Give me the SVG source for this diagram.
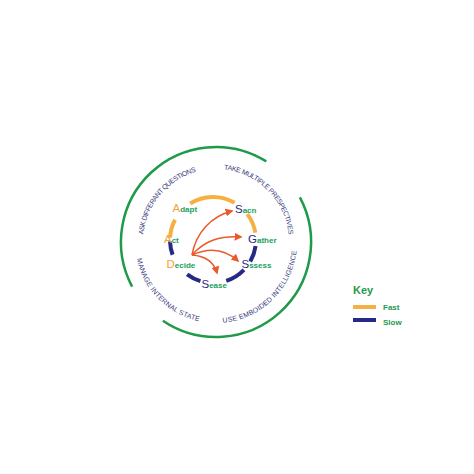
<svg xmlns="http://www.w3.org/2000/svg" width="474" height="474" viewBox="0 0 474 474">
<style>
.outer{fill:none;stroke:#1e9a48;stroke-width:2.5}
.fast{fill:none;stroke:#f6b042;stroke-width:4}
.slow{fill:none;stroke:#262a86;stroke-width:4}
.ring{font-family:"Liberation Sans",Arial,sans-serif;font-size:7px;fill:#3b3d80}
.cap{font-family:"Liberation Sans",Arial,sans-serif;font-size:11.5px}
.low{font-family:"Liberation Sans",Arial,sans-serif;font-size:8px;font-weight:bold;fill:#22a05e}
.o{fill:#f2a33a}
.b{fill:#262a86}
.arr{fill:none;stroke:#ea5a2a;stroke-width:1.5}
.key{font-family:"Liberation Sans",Arial,sans-serif;font-weight:bold;fill:#239a4c}
</style>
<defs>
<marker id="ah" viewBox="0 0 10 10" refX="8" refY="5" markerWidth="8" markerHeight="8" markerUnits="userSpaceOnUse" orient="auto">
<path d="M0,0 L10,5 L0,10 z" fill="#ea5a2a"/>
</marker>
<path id="topPath" d="M216,315 A73,73 0 1 1 216,169 A73,73 0 1 1 216,315"/>
<path id="botPath" d="M135,242 A81,81 0 1 0 297,242"/>
</defs>
<g id="outer-ring">
<path class="outer" d="M132.1,286.6 A95,95 0 0 1 266.3,161.4"/>
<path class="outer" d="M299.9,197.4 A95,95 0 0 1 162.9,320.8"/>
</g>
<g id="ring-texts">
<text class="ring"><textPath href="#topPath" startOffset="122" textLength="87" lengthAdjust="spacing">ASK DIFFERANT QUESTIONS</textPath></text>
<text class="ring"><textPath href="#topPath" startOffset="237" textLength="99" lengthAdjust="spacing">TAKE MULTIPLE PRESPECTIVES</textPath></text>
<text class="ring"><textPath href="#botPath" startOffset="17" textLength="93" lengthAdjust="spacing">MANAGE INTERNAL STATE</textPath></text>
<text class="ring"><textPath href="#botPath" startOffset="134" textLength="111" lengthAdjust="spacing">USE EMBOIDED INTELLIGENCE</textPath></text>
</g>
<g id="inner-ring">
<path class="fast" d="M170.06,237.75 A43,43 0 0 1 175.04,219.81"/>
<path class="fast" d="M190.21,203.53 A43,43 0 0 1 234.5,202.76"/>
<path class="fast" d="M247.34,214.12 A43,43 0 0 1 255.35,232.53"/>
<path class="slow" d="M255.58,245.98 A43,43 0 0 1 250.24,261.5"/>
<path class="slow" d="M243.93,269.87 A43,43 0 0 1 226.29,280.9"/>
<path class="slow" d="M200.43,281.12 A43,43 0 0 1 187.12,274.34"/>
<path class="slow" d="M172.59,254.71 A43,43 0 0 1 170.03,241.5"/>
</g>
<g id="node-adapt"><text x="172.5" y="212"><tspan class="cap o">A</tspan><tspan class="low">dapt</tspan></text></g>
<g id="node-sacn"><text x="235" y="213"><tspan class="cap b">S</tspan><tspan class="low">acn</tspan></text></g>
<g id="node-gather"><text x="248" y="243"><tspan class="cap b">G</tspan><tspan class="low">ather</tspan></text></g>
<g id="node-sssess"><text x="241.5" y="268"><tspan class="cap b">S</tspan><tspan class="low">ssess</tspan></text></g>
<g id="node-sease"><text x="201.5" y="288"><tspan class="cap b">S</tspan><tspan class="low">ease</tspan></text></g>
<g id="node-decide"><text x="166.5" y="268"><tspan class="cap o">D</tspan><tspan class="low">ecide</tspan></text></g>
<g id="node-act"><text x="164" y="243"><tspan class="cap o">A</tspan><tspan class="low">ct</tspan></text></g>
<g id="connectors">
<path class="arr" marker-end="url(#ah)" d="M192,255 C196,232 212,216 232,211"/>
<path class="arr" marker-end="url(#ah)" d="M192,255 C205,240 220,236 241,237"/>
<path class="arr" marker-end="url(#ah)" d="M192,255 C210,247 226,250 238,261"/>
<path class="arr" marker-end="url(#ah)" d="M192,255 C205,256 214,262 217,273"/>
</g>
<g id="key">
<text class="key" x="353" y="294" font-size="11">Key</text>
<rect x="353" y="305" width="23" height="4" fill="#f6b042"/>
<text class="key" x="383" y="310" font-size="8">Fast</text>
<rect x="353" y="318" width="23" height="4" fill="#262a86"/>
<text class="key" x="383" y="325" font-size="8">Slow</text>
</g>
</svg>
